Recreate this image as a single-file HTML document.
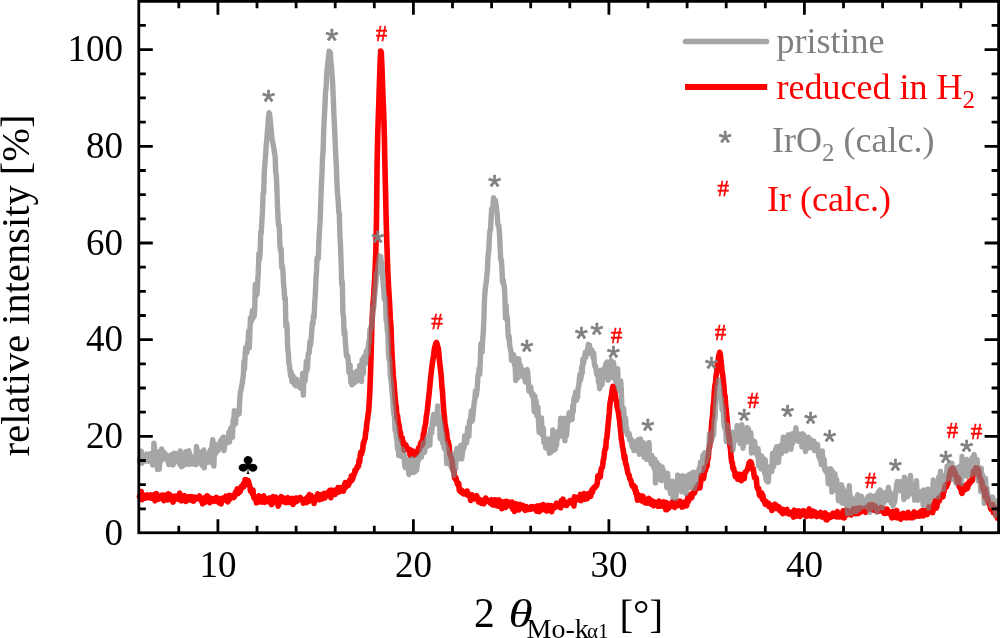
<!DOCTYPE html>
<html><head><meta charset="utf-8"><title>XRD pattern</title>
<style>
html,body{margin:0;padding:0;background:#fff;}
body{width:1000px;height:638px;overflow:hidden;}
svg{display:block;font-family:"Liberation Serif","Times New Roman",serif;}
</style></head><body>
<svg width="1000" height="638" viewBox="0 0 1000 638">
<rect width="1000" height="638" fill="#fff"/>
<g fill="none" stroke-linejoin="round" stroke-linecap="round">
<path d="M139.5,496.5 140.1,495.2 140.7,495.4 141.3,491.6 141.9,499.7 142.5,498.4 143.1,495.7 143.7,497.8 144.3,496.9 144.9,495.3 145.5,498.2 146.1,495.8 146.7,495.8 147.3,495.0 147.9,497.4 148.5,496.3 149.1,497.6 149.7,495.4 150.3,496.8 150.9,494.9 151.5,498.2 152.1,497.0 152.7,497.3 153.3,497.5 153.9,494.8 154.5,498.3 155.1,500.7 155.7,493.7 156.3,493.6 156.9,494.0 157.5,498.5 158.1,497.2 158.7,499.0 159.3,498.3 159.9,497.4 160.5,497.6 161.1,496.7 161.7,498.7 162.3,495.0 162.9,496.3 163.5,497.6 164.1,500.6 164.7,495.7 165.3,495.2 165.9,496.2 166.5,499.1 167.1,496.8 167.7,499.8 168.3,493.8 168.9,499.5 169.5,499.4 170.1,494.7 170.7,497.7 171.3,499.8 171.9,497.7 172.5,499.4 173.1,502.1 173.7,498.1 174.3,497.1 174.9,496.2 175.5,498.9 176.1,497.3 176.7,497.4 177.3,497.5 177.9,499.0 178.5,495.8 179.1,494.9 179.7,493.2 180.3,500.1 180.9,498.0 181.5,500.8 182.1,497.9 182.7,496.6 183.3,498.9 183.9,497.9 184.5,495.7 185.1,496.4 185.7,501.5 186.3,498.9 186.9,499.0 187.5,497.7 188.1,497.0 188.7,500.0 189.3,498.2 189.9,497.0 190.5,498.2 191.1,496.7 191.7,498.9 192.3,500.7 192.9,497.0 193.5,501.3 194.1,497.4 194.7,499.0 195.3,497.1 195.9,498.3 196.5,498.9 197.1,498.0 197.7,497.5 198.3,497.6 198.9,497.4 199.5,496.0 200.1,498.5 200.7,499.8 201.3,500.8 201.9,500.3 202.5,503.8 203.1,499.8 203.7,498.4 204.3,502.8 204.9,497.3 205.5,501.2 206.1,497.6 206.7,500.1 207.3,495.7 207.9,501.2 208.5,499.2 209.1,497.7 209.7,502.8 210.3,501.1 210.9,499.8 211.5,498.3 212.1,499.7 212.7,499.5 213.3,501.2 213.9,501.4 214.5,498.6 215.1,498.9 215.7,498.9 216.3,497.4 216.9,498.8 217.5,499.8 218.1,501.3 218.7,502.5 219.3,498.5 219.9,501.0 220.5,499.1 221.1,503.9 221.7,499.8 222.3,500.8 222.9,498.0 223.5,498.1 224.1,499.9 224.7,498.7 225.3,500.0 225.9,496.2 226.5,500.2 227.1,497.1 227.7,501.9 228.3,497.8 228.9,500.3 229.5,495.3 230.1,498.6 230.7,495.8 231.3,496.4 231.9,497.1 232.5,496.2 233.1,496.9 233.7,497.5 234.3,496.8 234.9,494.9 235.5,492.0 236.1,492.5 236.7,493.0 237.3,488.7 237.9,493.6 238.5,491.1 239.1,490.4 239.7,492.1 240.3,491.0 240.9,489.4 241.5,486.3 242.1,487.9 242.7,487.1 243.3,483.9 243.9,486.7 244.5,484.9 245.1,479.5 245.7,482.9 246.3,479.8 246.9,484.2 247.5,483.6 248.1,480.6 248.7,482.0 249.3,485.3 249.9,486.2 250.5,491.2 251.1,491.4 251.7,490.9 252.3,493.7 252.9,490.0 253.5,495.9 254.1,498.2 254.7,497.4 255.3,497.2 255.9,500.0 256.5,502.8 257.1,499.6 257.7,497.1 258.3,502.1 258.9,495.8 259.5,500.4 260.1,498.4 260.7,501.3 261.3,498.0 261.9,502.2 262.5,500.3 263.1,496.4 263.7,496.0 264.3,499.2 264.9,502.3 265.5,500.1 266.1,500.0 266.7,499.4 267.3,501.3 267.9,500.7 268.5,500.5 269.1,498.1 269.7,502.3 270.3,502.7 270.9,497.7 271.5,504.6 272.1,501.6 272.7,499.3 273.3,496.7 273.9,501.6 274.5,501.5 275.1,499.3 275.7,497.1 276.3,502.7 276.9,499.4 277.5,499.7 278.1,506.1 278.7,504.7 279.3,502.5 279.9,499.9 280.5,502.0 281.1,496.5 281.7,501.1 282.3,499.4 282.9,498.5 283.5,497.9 284.1,501.9 284.7,501.1 285.3,501.3 285.9,502.6 286.5,499.4 287.1,498.7 287.7,497.6 288.3,500.4 288.9,502.4 289.5,500.7 290.1,502.2 290.7,498.7 291.3,500.1 291.9,499.5 292.5,498.5 293.1,504.4 293.7,502.5 294.3,499.4 294.9,499.4 295.5,500.7 296.1,498.0 296.7,501.6 297.3,498.2 297.9,500.0 298.5,498.7 299.1,499.7 299.7,498.0 300.3,497.5 300.9,498.6 301.5,499.1 302.1,499.8 302.7,500.4 303.3,503.2 303.9,501.8 304.5,499.7 305.1,501.5 305.7,498.8 306.3,502.8 306.9,501.0 307.5,497.3 308.1,501.2 308.7,501.3 309.3,494.5 309.9,498.1 310.5,498.5 311.1,495.6 311.7,497.1 312.3,497.2 312.9,499.8 313.5,499.2 314.1,503.5 314.7,497.6 315.3,500.3 315.9,498.1 316.5,498.3 317.1,495.4 317.7,493.8 318.3,495.8 318.9,498.5 319.5,499.8 320.1,497.8 320.7,497.4 321.3,494.7 321.9,499.0 322.5,498.4 323.1,494.7 323.7,495.4 324.3,493.4 324.9,497.9 325.5,495.7 326.1,494.6 326.7,495.4 327.3,495.3 327.9,493.5 328.5,491.7 329.1,491.5 329.7,490.5 330.3,494.5 330.9,497.7 331.5,490.1 332.1,493.4 332.7,493.7 333.3,490.9 333.9,493.0 334.5,490.3 335.1,494.5 335.7,490.8 336.3,492.0 336.9,492.8 337.5,490.5 338.1,487.6 338.7,489.8 339.3,491.9 339.9,490.0 340.5,490.3 341.1,487.5 341.7,489.4 342.3,490.0 342.9,488.2 343.5,491.2 344.1,486.7 344.7,484.5 345.3,482.7 345.9,487.3 346.5,484.4 347.1,485.7 347.7,484.0 348.3,485.5 348.9,484.1 349.5,480.2 350.1,480.7 350.7,481.4 351.3,476.1 351.9,480.3 352.5,479.0 353.1,477.6 353.7,474.3 354.3,474.2 354.9,470.4 355.5,471.4 356.1,468.9 356.7,468.8 357.3,466.3 357.9,466.2 358.5,466.2 359.1,459.8 359.7,462.1 360.3,454.6 360.9,452.2 361.5,453.9 362.1,451.7 362.7,449.8 363.3,442.9 363.9,442.8 364.5,439.9 365.1,438.7 365.7,432.4 366.3,429.7 366.9,422.6 367.5,419.5 368.1,414.1 368.7,410.9 369.3,400.9 369.9,390.3 370.5,374.2 371.1,354.3 371.7,331.2 372.3,316.4 372.9,304.7 373.5,297.9 374.1,287.8 374.7,278.4 375.3,265.3 375.9,249.2 376.5,218.6 377.1,164.1 377.7,135.4 378.3,116.8 378.9,100.7 379.5,80.5 380.1,63.0 380.7,51.0 381.3,52.5 381.9,65.7 382.5,83.2 383.1,100.1 383.7,112.8 384.3,133.3 384.9,165.3 385.5,189.2 386.1,217.5 386.7,239.1 387.3,256.3 387.9,273.2 388.5,285.7 389.1,295.4 389.7,305.7 390.3,318.7 390.9,325.5 391.5,342.1 392.1,355.5 392.7,365.8 393.3,375.4 393.9,381.5 394.5,389.7 395.1,397.7 395.7,404.0 396.3,406.5 396.9,418.4 397.5,415.6 398.1,420.8 398.7,423.8 399.3,426.8 399.9,433.1 400.5,432.5 401.1,438.4 401.7,440.2 402.3,437.9 402.9,443.7 403.5,442.1 404.1,450.1 404.7,445.6 405.3,445.7 405.9,445.0 406.5,447.0 407.1,449.0 407.7,448.8 408.3,448.8 408.9,450.4 409.5,451.8 410.1,455.3 410.7,449.7 411.3,452.3 411.9,451.8 412.5,450.9 413.1,451.5 413.7,452.3 414.3,455.3 414.9,453.4 415.5,452.4 416.1,454.0 416.7,452.7 417.3,451.0 417.9,451.3 418.5,448.1 419.1,449.8 419.7,448.4 420.3,445.6 420.9,442.5 421.5,445.8 422.1,440.8 422.7,443.9 423.3,434.0 423.9,433.7 424.5,428.0 425.1,425.9 425.7,423.4 426.3,416.5 426.9,413.2 427.5,408.4 428.1,402.4 428.7,397.2 429.3,391.8 429.9,385.6 430.5,379.3 431.1,373.7 431.7,368.2 432.3,364.1 432.9,359.8 433.5,356.7 434.1,351.4 434.7,347.1 435.3,346.0 435.9,343.0 436.5,342.4 437.1,343.8 437.7,346.9 438.3,348.2 438.9,354.1 439.5,360.9 440.1,366.1 440.7,371.1 441.3,377.1 441.9,386.8 442.5,391.7 443.1,401.9 443.7,410.1 444.3,415.4 444.9,423.3 445.5,426.4 446.1,430.2 446.7,432.9 447.3,440.0 447.9,440.7 448.5,443.4 449.1,445.2 449.7,453.9 450.3,455.0 450.9,456.7 451.5,459.1 452.1,460.9 452.7,467.7 453.3,470.8 453.9,470.3 454.5,477.5 455.1,478.8 455.7,477.3 456.3,479.7 456.9,481.6 457.5,484.2 458.1,484.9 458.7,483.3 459.3,490.2 459.9,489.0 460.5,491.6 461.1,492.3 461.7,490.2 462.3,491.9 462.9,493.2 463.5,493.8 464.1,492.5 464.7,492.1 465.3,493.8 465.9,492.6 466.5,493.5 467.1,491.0 467.7,495.4 468.3,493.7 468.9,494.9 469.5,496.2 470.1,497.2 470.7,500.5 471.3,497.6 471.9,494.8 472.5,498.0 473.1,496.9 473.7,499.0 474.3,497.1 474.9,497.3 475.5,497.9 476.1,497.8 476.7,495.7 477.3,498.1 477.9,499.5 478.5,501.9 479.1,499.3 479.7,499.3 480.3,501.2 480.9,501.3 481.5,503.4 482.1,501.6 482.7,500.6 483.3,503.3 483.9,503.7 484.5,500.0 485.1,501.3 485.7,498.0 486.3,500.6 486.9,499.7 487.5,501.1 488.1,500.6 488.7,501.3 489.3,501.6 489.9,502.8 490.5,502.4 491.1,501.0 491.7,499.7 492.3,504.6 492.9,505.0 493.5,501.5 494.1,503.6 494.7,499.7 495.3,499.7 495.9,502.3 496.5,505.7 497.1,501.0 497.7,501.5 498.3,506.3 498.9,499.7 499.5,504.7 500.1,504.5 500.7,503.3 501.3,504.1 501.9,508.8 502.5,501.8 503.1,503.5 503.7,503.7 504.3,502.9 504.9,501.8 505.5,507.5 506.1,505.0 506.7,501.3 507.3,503.4 507.9,505.6 508.5,505.7 509.1,502.3 509.7,505.0 510.3,505.7 510.9,506.1 511.5,506.2 512.1,502.1 512.7,509.1 513.3,506.1 513.9,509.3 514.5,511.4 515.1,505.8 515.7,503.8 516.3,507.9 516.9,506.1 517.5,505.7 518.1,504.7 518.7,510.0 519.3,506.1 519.9,504.4 520.5,506.3 521.1,505.0 521.7,507.6 522.3,506.6 522.9,505.5 523.5,508.8 524.1,506.5 524.7,509.2 525.3,510.2 525.9,507.2 526.5,506.7 527.1,508.3 527.7,509.7 528.3,508.0 528.9,508.3 529.5,507.9 530.1,508.6 530.7,509.2 531.3,506.7 531.9,507.1 532.5,508.1 533.1,506.7 533.7,508.3 534.3,509.0 534.9,508.0 535.5,506.9 536.1,506.5 536.7,511.3 537.3,509.7 537.9,505.9 538.5,506.4 539.1,511.6 539.7,510.9 540.3,508.2 540.9,510.2 541.5,505.2 542.1,508.0 542.7,509.4 543.3,504.5 543.9,506.5 544.5,509.5 545.1,510.1 545.7,506.9 546.3,508.5 546.9,511.0 547.5,507.1 548.1,505.3 548.7,507.6 549.3,506.9 549.9,510.0 550.5,507.7 551.1,505.7 551.7,511.7 552.3,506.0 552.9,507.8 553.5,508.0 554.1,508.0 554.7,506.7 555.3,507.3 555.9,505.9 556.5,503.2 557.1,505.3 557.7,505.2 558.3,505.1 558.9,505.5 559.5,503.9 560.1,507.5 560.7,507.8 561.3,500.5 561.9,504.5 562.5,503.0 563.1,499.2 563.7,504.8 564.3,502.7 564.9,503.0 565.5,502.3 566.1,505.4 566.7,505.5 567.3,503.5 567.9,504.1 568.5,502.4 569.1,502.7 569.7,500.8 570.3,502.1 570.9,500.5 571.5,502.4 572.1,503.0 572.7,501.8 573.3,503.3 573.9,506.0 574.5,496.7 575.1,500.5 575.7,499.2 576.3,499.2 576.9,497.3 577.5,499.8 578.1,499.1 578.7,498.2 579.3,498.8 579.9,497.9 580.5,494.4 581.1,500.8 581.7,497.9 582.3,496.5 582.9,498.7 583.5,496.6 584.1,493.5 584.7,499.1 585.3,494.0 585.9,496.4 586.5,496.8 587.1,498.8 587.7,498.1 588.3,495.7 588.9,493.4 589.5,493.4 590.1,495.6 590.7,496.1 591.3,493.0 591.9,489.9 592.5,492.3 593.1,488.7 593.7,487.8 594.3,487.1 594.9,487.7 595.5,486.0 596.1,486.2 596.7,485.5 597.3,482.7 597.9,475.8 598.5,475.4 599.1,477.2 599.7,474.9 600.3,477.1 600.9,470.7 601.5,468.2 602.1,467.8 602.7,465.3 603.3,460.0 603.9,458.3 604.5,452.0 605.1,448.8 605.7,448.9 606.3,439.4 606.9,437.7 607.5,431.0 608.1,424.7 608.7,418.7 609.3,412.5 609.9,404.1 610.5,400.8 611.1,397.0 611.7,394.6 612.3,388.9 612.9,386.4 613.5,386.6 614.1,390.2 614.7,391.2 615.3,394.4 615.9,399.9 616.5,400.7 617.1,407.2 617.7,409.7 618.3,411.5 618.9,416.7 619.5,419.7 620.1,426.1 620.7,431.6 621.3,439.1 621.9,441.8 622.5,446.8 623.1,449.5 623.7,453.9 624.3,458.9 624.9,456.1 625.5,463.6 626.1,463.7 626.7,467.2 627.3,470.0 627.9,473.3 628.5,474.3 629.1,475.1 629.7,478.4 630.3,479.5 630.9,480.6 631.5,482.9 632.1,485.6 632.7,485.7 633.3,487.1 633.9,485.7 634.5,489.2 635.1,487.1 635.7,493.1 636.3,491.0 636.9,496.2 637.5,500.3 638.1,494.5 638.7,498.4 639.3,497.2 639.9,495.9 640.5,495.8 641.1,498.9 641.7,500.9 642.3,499.3 642.9,496.2 643.5,497.4 644.1,499.3 644.7,502.6 645.3,500.9 645.9,501.2 646.5,503.2 647.1,500.7 647.7,501.2 648.3,501.2 648.9,498.4 649.5,502.8 650.1,502.9 650.7,504.1 651.3,500.2 651.9,501.1 652.5,504.6 653.1,503.6 653.7,505.8 654.3,501.7 654.9,503.9 655.5,502.3 656.1,504.4 656.7,503.0 657.3,505.1 657.9,506.2 658.5,505.6 659.1,501.0 659.7,506.3 660.3,505.5 660.9,502.7 661.5,503.1 662.1,504.9 662.7,506.0 663.3,504.1 663.9,501.9 664.5,505.5 665.1,505.3 665.7,509.6 666.3,502.6 666.9,509.8 667.5,508.3 668.1,505.6 668.7,508.2 669.3,505.2 669.9,506.9 670.5,503.6 671.1,505.2 671.7,503.1 672.3,502.0 672.9,504.5 673.5,503.7 674.1,506.1 674.7,507.4 675.3,504.7 675.9,505.1 676.5,505.4 677.1,501.8 677.7,505.5 678.3,505.0 678.9,504.9 679.5,502.9 680.1,501.2 680.7,504.5 681.3,505.4 681.9,507.1 682.5,506.4 683.1,506.7 683.7,504.2 684.3,505.2 684.9,502.1 685.5,503.1 686.1,503.1 686.7,505.8 687.3,500.5 687.9,497.0 688.5,501.4 689.1,496.6 689.7,497.3 690.3,496.2 690.9,494.4 691.5,498.0 692.1,495.9 692.7,493.0 693.3,493.6 693.9,491.9 694.5,493.1 695.1,490.4 695.7,488.8 696.3,488.2 696.9,487.7 697.5,488.1 698.1,484.8 698.7,485.4 699.3,485.3 699.9,487.8 700.5,483.9 701.1,475.4 701.7,478.8 702.3,477.7 702.9,477.7 703.5,478.6 704.1,475.4 704.7,467.8 705.3,470.9 705.9,468.4 706.5,466.8 707.1,465.9 707.7,458.0 708.3,458.4 708.9,448.9 709.5,447.5 710.1,443.1 710.7,441.4 711.3,429.5 711.9,420.4 712.5,416.7 713.1,406.3 713.7,402.4 714.3,391.9 714.9,385.7 715.5,383.1 716.1,376.0 716.7,372.1 717.3,364.9 717.9,363.6 718.5,357.1 719.1,354.8 719.7,352.3 720.3,354.3 720.9,359.9 721.5,365.1 722.1,371.1 722.7,374.9 723.3,380.7 723.9,386.2 724.5,395.4 725.1,395.8 725.7,405.6 726.3,410.2 726.9,417.9 727.5,423.3 728.1,432.8 728.7,434.1 729.3,439.0 729.9,446.0 730.5,449.0 731.1,457.1 731.7,461.8 732.3,462.4 732.9,468.4 733.5,467.9 734.1,470.6 734.7,472.0 735.3,476.7 735.9,474.3 736.5,473.6 737.1,474.5 737.7,479.3 738.3,474.6 738.9,477.4 739.5,477.9 740.1,474.3 740.7,478.1 741.3,480.7 741.9,478.8 742.5,476.0 743.1,478.2 743.7,476.9 744.3,478.7 744.9,472.4 745.5,472.0 746.1,471.9 746.7,470.6 747.3,469.8 747.9,468.2 748.5,465.8 749.1,462.9 749.7,463.9 750.3,461.7 750.9,462.0 751.5,463.4 752.1,466.8 752.7,469.7 753.3,468.7 753.9,474.0 754.5,477.6 755.1,478.2 755.7,477.3 756.3,478.4 756.9,486.2 757.5,488.5 758.1,489.3 758.7,488.5 759.3,494.8 759.9,495.7 760.5,494.4 761.1,495.1 761.7,492.9 762.3,498.9 762.9,495.3 763.5,500.5 764.1,501.3 764.7,500.8 765.3,504.3 765.9,501.2 766.5,503.5 767.1,504.4 767.7,503.9 768.3,503.1 768.9,506.6 769.5,505.5 770.1,504.7 770.7,505.2 771.3,506.1 771.9,510.5 772.5,506.7 773.1,506.3 773.7,505.1 774.3,505.1 774.9,504.1 775.5,508.4 776.1,508.3 776.7,506.6 777.3,506.0 777.9,508.5 778.5,508.4 779.1,507.1 779.7,510.5 780.3,510.4 780.9,510.3 781.5,512.1 782.1,509.6 782.7,513.7 783.3,509.4 783.9,512.5 784.5,512.9 785.1,511.4 785.7,512.8 786.3,509.8 786.9,509.5 787.5,512.1 788.1,511.3 788.7,513.9 789.3,512.9 789.9,514.1 790.5,513.6 791.1,513.4 791.7,513.3 792.3,512.5 792.9,512.3 793.5,517.1 794.1,510.0 794.7,513.0 795.3,515.3 795.9,514.2 796.5,516.1 797.1,514.5 797.7,511.1 798.3,512.9 798.9,510.9 799.5,515.5 800.1,516.4 800.7,512.8 801.3,514.7 801.9,513.0 802.5,511.0 803.1,513.0 803.7,510.8 804.3,512.8 804.9,514.3 805.5,515.3 806.1,516.5 806.7,513.4 807.3,514.5 807.9,515.0 808.5,515.3 809.1,508.8 809.7,512.8 810.3,515.9 810.9,512.3 811.5,515.0 812.1,516.1 812.7,511.0 813.3,514.3 813.9,515.2 814.5,514.8 815.1,512.0 815.7,515.6 816.3,513.9 816.9,516.6 817.5,515.9 818.1,514.1 818.7,515.6 819.3,514.0 819.9,514.0 820.5,512.4 821.1,515.0 821.7,517.0 822.3,515.7 822.9,515.5 823.5,514.4 824.1,514.6 824.7,517.1 825.3,512.9 825.9,519.6 826.5,515.6 827.1,519.9 827.7,518.0 828.3,515.0 828.9,517.2 829.5,516.3 830.1,516.7 830.7,517.3 831.3,514.8 831.9,514.6 832.5,515.0 833.1,513.1 833.7,515.2 834.3,516.1 834.9,516.1 835.5,516.0 836.1,514.8 836.7,517.0 837.3,511.6 837.9,514.7 838.5,514.7 839.1,517.0 839.7,516.5 840.3,516.7 840.9,515.1 841.5,516.8 842.1,513.0 842.7,515.0 843.3,510.7 843.9,517.9 844.5,517.6 845.1,513.4 845.7,512.8 846.3,510.3 846.9,511.3 847.5,514.4 848.1,513.7 848.7,511.1 849.3,512.9 849.9,512.5 850.5,514.6 851.1,514.9 851.7,513.0 852.3,513.5 852.9,513.1 853.5,508.9 854.1,513.1 854.7,512.4 855.3,513.7 855.9,508.6 856.5,513.3 857.1,510.4 857.7,511.9 858.3,513.4 858.9,508.1 859.5,508.2 860.1,512.3 860.7,508.0 861.3,508.2 861.9,510.9 862.5,509.2 863.1,510.8 863.7,509.6 864.3,508.7 864.9,510.3 865.5,512.3 866.1,507.7 866.7,510.4 867.3,509.5 867.9,507.4 868.5,507.9 869.1,505.1 869.7,505.6 870.3,507.3 870.9,506.7 871.5,509.4 872.1,504.6 872.7,506.7 873.3,506.3 873.9,507.5 874.5,510.3 875.1,506.1 875.7,510.3 876.3,507.9 876.9,508.7 877.5,511.5 878.1,509.2 878.7,511.2 879.3,510.4 879.9,510.0 880.5,509.8 881.1,507.4 881.7,509.4 882.3,511.3 882.9,511.6 883.5,508.5 884.1,513.4 884.7,512.8 885.3,509.4 885.9,510.0 886.5,513.2 887.1,509.1 887.7,511.2 888.3,512.7 888.9,512.8 889.5,513.1 890.1,514.2 890.7,512.2 891.3,513.0 891.9,518.0 892.5,511.6 893.1,513.6 893.7,514.9 894.3,513.6 894.9,517.4 895.5,515.3 896.1,516.8 896.7,510.5 897.3,517.8 897.9,517.8 898.5,514.3 899.1,518.3 899.7,516.3 900.3,517.6 900.9,519.2 901.5,516.0 902.1,513.9 902.7,515.7 903.3,513.3 903.9,514.2 904.5,514.2 905.1,514.3 905.7,517.8 906.3,517.2 906.9,513.8 907.5,517.7 908.1,512.3 908.7,514.2 909.3,515.1 909.9,517.6 910.5,516.7 911.1,516.1 911.7,517.7 912.3,516.5 912.9,517.7 913.5,513.5 914.1,511.8 914.7,514.1 915.3,516.4 915.9,515.2 916.5,516.3 917.1,515.9 917.7,515.4 918.3,515.9 918.9,512.9 919.5,516.2 920.1,512.1 920.7,513.7 921.3,511.1 921.9,514.6 922.5,510.5 923.1,516.0 923.7,510.6 924.3,513.5 924.9,512.5 925.5,510.9 926.1,514.7 926.7,511.2 927.3,514.5 927.9,509.4 928.5,509.5 929.1,506.9 929.7,511.3 930.3,511.6 930.9,509.9 931.5,508.7 932.1,506.8 932.7,512.6 933.3,509.0 933.9,503.6 934.5,505.9 935.1,500.9 935.7,508.1 936.3,508.1 936.9,506.3 937.5,502.6 938.1,500.7 938.7,498.2 939.3,501.0 939.9,497.5 940.5,497.2 941.1,495.7 941.7,495.3 942.3,496.5 942.9,496.8 943.5,492.7 944.1,491.1 944.7,487.6 945.3,485.9 945.9,484.8 946.5,487.0 947.1,484.3 947.7,484.1 948.3,481.5 948.9,478.3 949.5,474.6 950.1,474.0 950.7,469.7 951.3,474.4 951.9,469.8 952.5,468.2 953.1,473.1 953.7,469.4 954.3,472.4 954.9,472.5 955.5,475.1 956.1,475.5 956.7,478.8 957.3,482.2 957.9,478.5 958.5,478.1 959.1,486.5 959.7,485.8 960.3,488.7 960.9,487.8 961.5,492.3 962.1,493.4 962.7,487.6 963.3,491.0 963.9,488.3 964.5,486.0 965.1,488.1 965.7,489.2 966.3,484.9 966.9,484.4 967.5,488.5 968.1,485.4 968.7,485.3 969.3,481.6 969.9,481.8 970.5,482.3 971.1,481.2 971.7,479.6 972.3,480.6 972.9,476.1 973.5,471.1 974.1,470.7 974.7,470.9 975.3,472.3 975.9,467.8 976.5,468.1 977.1,469.1 977.7,468.6 978.3,469.7 978.9,472.5 979.5,476.9 980.1,478.1 980.7,478.9 981.3,482.5 981.9,481.5 982.5,487.9 983.1,489.2 983.7,490.0 984.3,488.0 984.9,496.8 985.5,489.1 986.1,494.5 986.7,496.4 987.3,501.1 987.9,498.4 988.5,503.0 989.1,503.5 989.7,504.2 990.3,507.3 990.9,509.2 991.5,508.1 992.1,507.7 992.7,504.6 993.3,512.6 993.9,510.0 994.5,507.7 995.1,512.2 995.7,515.3 996.3,512.8 996.9,511.3 997.5,518.3" stroke="#ff0000" stroke-width="5.6"/>
<path d="M139.5,460.5 140.1,463.1 140.7,460.3 141.3,451.3 141.9,463.4 142.5,460.8 143.1,455.3 143.7,461.4 144.3,460.2 144.9,459.8 145.5,458.3 146.1,461.1 146.7,454.0 147.3,457.2 147.9,455.4 148.5,461.3 149.1,458.2 149.7,456.4 150.3,453.7 150.9,456.6 151.5,458.0 152.1,456.5 152.7,465.1 153.3,463.5 153.9,443.1 154.5,447.6 155.1,457.0 155.7,455.7 156.3,459.2 156.9,459.2 157.5,469.6 158.1,451.9 158.7,455.9 159.3,469.2 159.9,461.6 160.5,461.7 161.1,455.2 161.7,449.0 162.3,459.1 162.9,458.9 163.5,451.7 164.1,454.8 164.7,458.3 165.3,453.6 165.9,458.4 166.5,459.6 167.1,459.5 167.7,456.6 168.3,462.8 168.9,464.6 169.5,461.5 170.1,455.4 170.7,464.0 171.3,457.2 171.9,464.8 172.5,454.1 173.1,465.0 173.7,459.9 174.3,453.1 174.9,458.3 175.5,460.3 176.1,461.5 176.7,454.6 177.3,453.9 177.9,461.1 178.5,457.4 179.1,461.3 179.7,464.2 180.3,450.9 180.9,461.4 181.5,466.7 182.1,458.4 182.7,455.5 183.3,464.1 183.9,461.4 184.5,464.9 185.1,458.0 185.7,451.8 186.3,459.3 186.9,457.4 187.5,464.0 188.1,460.8 188.7,450.7 189.3,453.0 189.9,464.4 190.5,463.2 191.1,455.9 191.7,459.3 192.3,461.7 192.9,461.8 193.5,464.0 194.1,460.5 194.7,458.5 195.3,457.6 195.9,464.7 196.5,446.5 197.1,458.1 197.7,459.0 198.3,450.9 198.9,460.6 199.5,455.1 200.1,463.4 200.7,457.9 201.3,462.2 201.9,465.2 202.5,460.6 203.1,453.6 203.7,450.0 204.3,467.9 204.9,457.6 205.5,454.3 206.1,458.8 206.7,456.8 207.3,462.3 207.9,457.4 208.5,456.9 209.1,452.5 209.7,458.5 210.3,449.7 210.9,458.5 211.5,462.7 212.1,445.4 212.7,439.6 213.3,456.0 213.9,466.1 214.5,446.0 215.1,444.1 215.7,453.6 216.3,445.1 216.9,446.4 217.5,446.6 218.1,450.8 218.7,445.0 219.3,448.2 219.9,445.1 220.5,440.9 221.1,443.3 221.7,439.3 222.3,444.1 222.9,437.4 223.5,437.1 224.1,450.6 224.7,441.8 225.3,441.3 225.9,443.9 226.5,438.3 227.1,438.8 227.7,442.0 228.3,440.6 228.9,432.0 229.5,442.1 230.1,433.0 230.7,428.7 231.3,427.7 231.9,428.4 232.5,437.4 233.1,419.8 233.7,425.3 234.3,410.8 234.9,420.8 235.5,423.9 236.1,415.7 236.7,411.5 237.3,414.0 237.9,413.9 238.5,410.5 239.1,414.0 239.7,400.4 240.3,392.0 240.9,390.8 241.5,387.2 242.1,384.3 242.7,379.4 243.3,376.2 243.9,361.2 244.5,369.4 245.1,356.0 245.7,347.4 246.3,352.8 246.9,352.8 247.5,345.0 248.1,340.0 248.7,330.7 249.3,347.8 249.9,332.4 250.5,317.7 251.1,317.6 251.7,320.9 252.3,310.4 252.9,318.1 253.5,311.9 254.1,316.6 254.7,309.7 255.3,284.5 255.9,296.0 256.5,283.9 257.1,294.2 257.7,281.0 258.3,272.7 258.9,253.4 259.5,259.5 260.1,253.6 260.7,232.3 261.3,233.2 261.9,220.4 262.5,211.7 263.1,193.2 263.7,193.1 264.3,171.7 264.9,163.7 265.5,157.1 266.1,146.7 266.7,140.6 267.3,132.7 267.9,125.5 268.5,117.1 269.1,112.6 269.7,115.1 270.3,120.5 270.9,127.0 271.5,132.6 272.1,139.9 272.7,141.6 273.3,145.9 273.9,148.2 274.5,153.2 275.1,156.2 275.7,172.0 276.3,175.5 276.9,188.4 277.5,206.5 278.1,219.8 278.7,225.9 279.3,225.3 279.9,245.1 280.5,250.8 281.1,248.5 281.7,267.2 282.3,265.8 282.9,270.0 283.5,283.5 284.1,289.0 284.7,299.0 285.3,297.8 285.9,326.1 286.5,322.7 287.1,327.3 287.7,348.6 288.3,351.9 288.9,363.3 289.5,365.8 290.1,371.8 290.7,376.0 291.3,372.4 291.9,381.6 292.5,376.9 293.1,376.1 293.7,381.8 294.3,384.3 294.9,381.9 295.5,380.2 296.1,386.1 296.7,379.3 297.3,382.4 297.9,385.4 298.5,383.0 299.1,385.9 299.7,385.9 300.3,388.0 300.9,383.2 301.5,383.0 302.1,385.2 302.7,373.1 303.3,395.1 303.9,376.7 304.5,374.8 305.1,381.1 305.7,374.1 306.3,361.4 306.9,370.5 307.5,367.5 308.1,355.9 308.7,352.5 309.3,352.7 309.9,341.3 310.5,345.1 311.1,340.1 311.7,331.3 312.3,323.0 312.9,324.5 313.5,315.2 314.1,317.7 314.7,302.9 315.3,295.1 315.9,280.4 316.5,271.4 317.1,257.9 317.7,259.1 318.3,258.6 318.9,240.1 319.5,230.1 320.1,221.2 320.7,204.5 321.3,187.0 321.9,175.6 322.5,158.2 323.1,150.6 323.7,130.0 324.3,117.8 324.9,107.4 325.5,92.4 326.1,88.1 326.7,74.3 327.3,67.2 327.9,62.5 328.5,57.3 329.1,51.2 329.7,52.0 330.3,52.5 330.9,62.4 331.5,66.9 332.1,74.3 332.7,84.9 333.3,98.5 333.9,114.2 334.5,126.7 335.1,139.8 335.7,154.4 336.3,164.6 336.9,182.2 337.5,194.4 338.1,199.4 338.7,211.9 339.3,213.4 339.9,235.4 340.5,245.3 341.1,262.5 341.7,284.1 342.3,281.8 342.9,313.3 343.5,316.8 344.1,333.9 344.7,330.1 345.3,340.4 345.9,349.2 346.5,355.9 347.1,356.9 347.7,355.9 348.3,360.8 348.9,372.4 349.5,371.1 350.1,365.2 350.7,381.9 351.3,381.4 351.9,384.8 352.5,378.1 353.1,384.1 353.7,373.2 354.3,381.6 354.9,375.0 355.5,380.6 356.1,381.6 356.7,371.3 357.3,374.4 357.9,374.3 358.5,380.0 359.1,376.7 359.7,365.5 360.3,374.0 360.9,374.8 361.5,381.6 362.1,359.7 362.7,364.9 363.3,373.7 363.9,357.2 364.5,356.0 365.1,363.1 365.7,363.3 366.3,351.1 366.9,354.7 367.5,349.2 368.1,353.6 368.7,341.7 369.3,343.6 369.9,329.7 370.5,329.8 371.1,325.9 371.7,327.6 372.3,319.4 372.9,307.2 373.5,309.0 374.1,304.0 374.7,294.6 375.3,288.6 375.9,283.3 376.5,272.6 377.1,274.1 377.7,270.0 378.3,263.3 378.9,263.3 379.5,256.0 380.1,256.1 380.7,256.7 381.3,264.9 381.9,262.4 382.5,274.1 383.1,282.9 383.7,289.0 384.3,299.2 384.9,297.6 385.5,299.1 386.1,319.9 386.7,318.5 387.3,330.6 387.9,334.1 388.5,353.5 389.1,360.1 389.7,359.1 390.3,375.5 390.9,378.8 391.5,384.6 392.1,392.7 392.7,398.0 393.3,409.2 393.9,414.2 394.5,417.2 395.1,430.6 395.7,427.0 396.3,436.0 396.9,439.9 397.5,448.7 398.1,440.5 398.7,455.3 399.3,448.9 399.9,448.9 400.5,448.0 401.1,456.4 401.7,454.7 402.3,449.4 402.9,450.3 403.5,454.4 404.1,454.6 404.7,465.2 405.3,467.6 405.9,465.5 406.5,463.4 407.1,459.6 407.7,462.7 408.3,467.6 408.9,474.6 409.5,468.0 410.1,461.4 410.7,463.1 411.3,460.2 411.9,458.5 412.5,461.6 413.1,463.6 413.7,472.5 414.3,462.5 414.9,469.5 415.5,471.5 416.1,461.9 416.7,469.9 417.3,464.4 417.9,457.6 418.5,460.6 419.1,458.5 419.7,456.2 420.3,455.5 420.9,456.4 421.5,457.0 422.1,448.7 422.7,452.4 423.3,443.0 423.9,451.6 424.5,452.4 425.1,448.3 425.7,447.3 426.3,447.0 426.9,438.0 427.5,438.3 428.1,440.2 428.7,440.8 429.3,435.3 429.9,445.2 430.5,428.9 431.1,433.2 431.7,433.1 432.3,423.6 432.9,418.1 433.5,414.4 434.1,420.2 434.7,424.1 435.3,418.4 435.9,417.2 436.5,413.9 437.1,419.5 437.7,405.9 438.3,420.7 438.9,421.7 439.5,416.5 440.1,438.5 440.7,421.3 441.3,425.2 441.9,427.0 442.5,442.4 443.1,434.3 443.7,445.8 444.3,448.3 444.9,449.3 445.5,443.2 446.1,449.2 446.7,463.5 447.3,448.5 447.9,452.2 448.5,457.1 449.1,463.5 449.7,461.4 450.3,465.0 450.9,455.8 451.5,467.5 452.1,465.9 452.7,454.2 453.3,471.4 453.9,475.4 454.5,458.1 455.1,462.1 455.7,468.9 456.3,452.3 456.9,448.6 457.5,451.6 458.1,454.7 458.7,453.6 459.3,458.8 459.9,455.4 460.5,445.4 461.1,453.6 461.7,459.0 462.3,453.5 462.9,450.7 463.5,443.8 464.1,447.7 464.7,435.6 465.3,443.6 465.9,437.6 466.5,442.9 467.1,437.7 467.7,427.5 468.3,432.4 468.9,436.4 469.5,421.2 470.1,421.8 470.7,418.0 471.3,411.0 471.9,421.4 472.5,420.1 473.1,413.9 473.7,407.3 474.3,402.0 474.9,399.9 475.5,390.8 476.1,395.9 476.7,392.8 477.3,388.0 477.9,375.7 478.5,374.5 479.1,368.5 479.7,374.3 480.3,360.3 480.9,343.6 481.5,350.3 482.1,352.4 482.7,339.2 483.3,332.3 483.9,319.0 484.5,299.1 485.1,290.9 485.7,285.1 486.3,282.3 486.9,275.6 487.5,268.5 488.1,255.1 488.7,252.1 489.3,239.3 489.9,230.8 490.5,229.6 491.1,218.4 491.7,208.5 492.3,208.7 492.9,207.8 493.5,197.8 494.1,200.9 494.7,200.5 495.3,200.2 495.9,203.2 496.5,208.9 497.1,212.8 497.7,222.9 498.3,226.3 498.9,225.6 499.5,234.0 500.1,246.7 500.7,259.0 501.3,259.9 501.9,267.0 502.5,281.9 503.1,279.8 503.7,285.1 504.3,285.8 504.9,297.1 505.5,318.1 506.1,305.1 506.7,318.9 507.3,316.7 507.9,330.0 508.5,338.4 509.1,336.1 509.7,345.2 510.3,348.6 510.9,350.4 511.5,360.3 512.1,357.8 512.7,354.3 513.3,354.5 513.9,355.8 514.5,365.0 515.1,362.3 515.7,380.5 516.3,376.6 516.9,366.0 517.5,366.1 518.1,377.7 518.7,358.6 519.3,367.0 519.9,375.2 520.5,365.5 521.1,368.5 521.7,369.8 522.3,376.0 522.9,373.7 523.5,375.8 524.1,377.5 524.7,375.2 525.3,382.0 525.9,372.8 526.5,370.1 527.1,369.7 527.7,372.4 528.3,380.3 528.9,391.2 529.5,388.9 530.1,387.0 530.7,386.9 531.3,392.2 531.9,395.3 532.5,396.5 533.1,393.8 533.7,401.2 534.3,411.5 534.9,396.1 535.5,408.8 536.1,400.6 536.7,415.3 537.3,412.3 537.9,406.9 538.5,420.9 539.1,432.3 539.7,424.7 540.3,432.3 540.9,427.5 541.5,418.0 542.1,434.7 542.7,431.8 543.3,428.1 543.9,442.4 544.5,441.5 545.1,438.7 545.7,447.7 546.3,439.2 546.9,448.2 547.5,439.8 548.1,447.9 548.7,438.9 549.3,453.2 549.9,446.4 550.5,452.9 551.1,440.5 551.7,442.4 552.3,449.6 552.9,429.9 553.5,439.0 554.1,450.3 554.7,446.8 555.3,449.2 555.9,441.6 556.5,445.8 557.1,438.0 557.7,433.8 558.3,431.3 558.9,436.8 559.5,436.1 560.1,434.9 560.7,418.1 561.3,425.8 561.9,432.8 562.5,436.3 563.1,430.4 563.7,427.5 564.3,418.3 564.9,440.8 565.5,422.3 566.1,436.2 566.7,434.1 567.3,425.6 567.9,419.3 568.5,421.6 569.1,412.8 569.7,418.8 570.3,415.6 570.9,416.7 571.5,417.1 572.1,419.5 572.7,405.9 573.3,411.7 573.9,399.5 574.5,396.8 575.1,396.1 575.7,391.9 576.3,400.4 576.9,397.8 577.5,397.4 578.1,387.8 578.7,387.0 579.3,379.9 579.9,374.4 580.5,380.4 581.1,376.8 581.7,367.0 582.3,373.0 582.9,358.9 583.5,363.9 584.1,359.3 584.7,357.1 585.3,352.3 585.9,357.4 586.5,353.9 587.1,354.0 587.7,349.3 588.3,344.4 588.9,347.0 589.5,345.1 590.1,350.2 590.7,353.3 591.3,351.6 591.9,350.1 592.5,353.1 593.1,357.7 593.7,353.1 594.3,363.2 594.9,366.6 595.5,366.1 596.1,369.4 596.7,374.7 597.3,371.0 597.9,372.2 598.5,382.0 599.1,380.0 599.7,388.7 600.3,374.4 600.9,370.1 601.5,384.8 602.1,384.6 602.7,374.9 603.3,370.4 603.9,377.7 604.5,367.7 605.1,374.7 605.7,363.6 606.3,373.3 606.9,362.0 607.5,371.5 608.1,380.3 608.7,369.6 609.3,374.4 609.9,365.9 610.5,364.0 611.1,360.6 611.7,374.5 612.3,368.5 612.9,377.7 613.5,362.3 614.1,367.6 614.7,369.8 615.3,378.3 615.9,382.1 616.5,370.2 617.1,369.5 617.7,368.8 618.3,388.6 618.9,383.8 619.5,384.0 620.1,390.9 620.7,380.9 621.3,389.4 621.9,407.8 622.5,408.5 623.1,410.8 623.7,408.3 624.3,420.8 624.9,431.1 625.5,418.0 626.1,428.0 626.7,428.2 627.3,434.7 627.9,434.9 628.5,435.9 629.1,433.6 629.7,439.9 630.3,437.9 630.9,441.4 631.5,442.5 632.1,447.0 632.7,440.7 633.3,442.5 633.9,450.6 634.5,443.8 635.1,443.9 635.7,450.4 636.3,447.4 636.9,446.6 637.5,447.5 638.1,439.7 638.7,449.3 639.3,454.3 639.9,450.5 640.5,439.0 641.1,449.4 641.7,443.2 642.3,447.3 642.9,449.7 643.5,442.8 644.1,457.2 644.7,450.0 645.3,455.2 645.9,454.9 646.5,459.3 647.1,459.0 647.7,444.9 648.3,453.9 648.9,442.5 649.5,452.4 650.1,459.5 650.7,461.2 651.3,464.0 651.9,455.5 652.5,460.0 653.1,459.5 653.7,466.7 654.3,469.2 654.9,459.3 655.5,483.0 656.1,463.1 656.7,462.2 657.3,468.5 657.9,470.5 658.5,470.4 659.1,464.9 659.7,477.7 660.3,471.0 660.9,480.3 661.5,480.5 662.1,466.9 662.7,469.4 663.3,470.2 663.9,477.9 664.5,477.6 665.1,479.5 665.7,474.2 666.3,481.6 666.9,487.7 667.5,473.3 668.1,480.2 668.7,483.3 669.3,481.8 669.9,482.1 670.5,493.5 671.1,491.3 671.7,489.5 672.3,481.1 672.9,498.0 673.5,488.0 674.1,483.2 674.7,484.7 675.3,484.1 675.9,498.6 676.5,488.1 677.1,487.2 677.7,475.0 678.3,490.8 678.9,480.8 679.5,480.3 680.1,489.7 680.7,481.4 681.3,490.5 681.9,491.8 682.5,475.6 683.1,484.4 683.7,476.2 684.3,484.3 684.9,489.3 685.5,476.5 686.1,493.6 686.7,481.7 687.3,476.6 687.9,482.1 688.5,486.9 689.1,474.6 689.7,481.9 690.3,473.9 690.9,487.7 691.5,481.6 692.1,478.0 692.7,485.6 693.3,472.3 693.9,476.7 694.5,488.5 695.1,477.2 695.7,484.7 696.3,477.7 696.9,472.2 697.5,473.9 698.1,474.9 698.7,471.3 699.3,468.0 699.9,467.2 700.5,462.1 701.1,469.7 701.7,469.9 702.3,470.5 702.9,455.1 703.5,468.0 704.1,462.0 704.7,452.8 705.3,459.6 705.9,461.8 706.5,458.4 707.1,457.5 707.7,456.7 708.3,454.3 708.9,447.1 709.5,433.9 710.1,438.8 710.7,442.4 711.3,435.9 711.9,439.1 712.5,436.7 713.1,430.2 713.7,434.6 714.3,418.9 714.9,420.1 715.5,407.7 716.1,398.9 716.7,395.5 717.3,385.9 717.9,386.1 718.5,379.9 719.1,385.6 719.7,387.2 720.3,394.0 720.9,398.0 721.5,398.8 722.1,409.9 722.7,405.9 723.3,410.9 723.9,423.5 724.5,427.5 725.1,428.9 725.7,429.3 726.3,441.6 726.9,424.7 727.5,428.8 728.1,428.9 728.7,440.4 729.3,437.9 729.9,443.0 730.5,442.5 731.1,436.1 731.7,433.0 732.3,432.3 732.9,450.1 733.5,443.4 734.1,441.5 734.7,436.5 735.3,437.4 735.9,436.7 736.5,436.9 737.1,425.5 737.7,438.5 738.3,436.8 738.9,440.5 739.5,440.1 740.1,443.6 740.7,438.8 741.3,443.3 741.9,424.7 742.5,432.7 743.1,448.2 743.7,431.9 744.3,437.0 744.9,442.3 745.5,433.5 746.1,442.2 746.7,430.3 747.3,427.6 747.9,430.7 748.5,428.9 749.1,437.8 749.7,436.2 750.3,439.8 750.9,432.7 751.5,453.0 752.1,439.5 752.7,440.9 753.3,444.9 753.9,442.3 754.5,441.4 755.1,446.6 755.7,452.4 756.3,452.3 756.9,455.2 757.5,448.4 758.1,448.7 758.7,465.6 759.3,454.8 759.9,460.3 760.5,463.4 761.1,469.1 761.7,456.0 762.3,463.0 762.9,465.6 763.5,468.5 764.1,459.0 764.7,473.7 765.3,459.9 765.9,478.6 766.5,480.7 767.1,481.2 767.7,471.0 768.3,482.1 768.9,471.0 769.5,467.5 770.1,467.2 770.7,466.1 771.3,469.8 771.9,471.5 772.5,453.4 773.1,460.2 773.7,466.5 774.3,461.3 774.9,461.8 775.5,449.5 776.1,461.8 776.7,446.8 777.3,455.3 777.9,460.6 778.5,462.4 779.1,453.8 779.7,454.8 780.3,445.6 780.9,445.4 781.5,453.6 782.1,446.4 782.7,444.9 783.3,437.2 783.9,445.2 784.5,447.4 785.1,439.0 785.7,440.0 786.3,451.1 786.9,442.9 787.5,439.9 788.1,434.9 788.7,437.3 789.3,439.0 789.9,447.6 790.5,436.4 791.1,449.2 791.7,433.9 792.3,436.7 792.9,443.0 793.5,436.7 794.1,433.2 794.7,436.8 795.3,439.7 795.9,427.7 796.5,435.7 797.1,436.4 797.7,434.8 798.3,441.2 798.9,434.1 799.5,435.5 800.1,437.9 800.7,441.9 801.3,437.0 801.9,446.8 802.5,433.8 803.1,446.2 803.7,434.7 804.3,438.8 804.9,442.0 805.5,451.5 806.1,445.4 806.7,438.5 807.3,448.2 807.9,440.1 808.5,437.2 809.1,444.3 809.7,442.7 810.3,447.7 810.9,439.8 811.5,445.3 812.1,447.1 812.7,445.6 813.3,444.3 813.9,441.2 814.5,450.6 815.1,447.0 815.7,449.8 816.3,446.1 816.9,449.1 817.5,444.4 818.1,451.6 818.7,456.5 819.3,454.0 819.9,459.3 820.5,457.5 821.1,464.6 821.7,457.4 822.3,450.9 822.9,463.8 823.5,462.1 824.1,459.2 824.7,469.7 825.3,469.0 825.9,471.5 826.5,468.6 827.1,472.9 827.7,474.4 828.3,483.9 828.9,471.4 829.5,476.2 830.1,479.3 830.7,468.8 831.3,470.4 831.9,492.0 832.5,471.3 833.1,485.1 833.7,478.2 834.3,479.5 834.9,473.7 835.5,480.5 836.1,490.6 836.7,479.5 837.3,491.3 837.9,490.7 838.5,500.9 839.1,488.1 839.7,498.5 840.3,497.3 840.9,491.6 841.5,484.8 842.1,503.0 842.7,487.9 843.3,493.5 843.9,501.6 844.5,503.5 845.1,493.3 845.7,498.3 846.3,497.5 846.9,506.0 847.5,513.8 848.1,490.4 848.7,506.0 849.3,485.7 849.9,501.9 850.5,496.1 851.1,513.4 851.7,503.6 852.3,498.8 852.9,500.3 853.5,499.9 854.1,504.2 854.7,502.4 855.3,506.9 855.9,511.9 856.5,507.3 857.1,496.8 857.7,494.7 858.3,499.5 858.9,509.5 859.5,501.9 860.1,500.1 860.7,504.6 861.3,496.1 861.9,497.6 862.5,506.7 863.1,502.3 863.7,501.5 864.3,505.7 864.9,500.8 865.5,500.2 866.1,501.5 866.7,507.2 867.3,504.0 867.9,496.8 868.5,501.3 869.1,506.1 869.7,512.3 870.3,495.2 870.9,502.8 871.5,499.0 872.1,504.5 872.7,502.1 873.3,507.4 873.9,501.9 874.5,496.0 875.1,496.0 875.7,501.2 876.3,501.2 876.9,512.2 877.5,508.2 878.1,492.5 878.7,500.9 879.3,491.7 879.9,489.9 880.5,503.1 881.1,502.0 881.7,493.3 882.3,508.0 882.9,493.6 883.5,492.6 884.1,502.5 884.7,500.1 885.3,497.8 885.9,498.2 886.5,499.6 887.1,497.4 887.7,497.0 888.3,487.3 888.9,490.1 889.5,500.5 890.1,493.0 890.7,499.5 891.3,503.0 891.9,493.9 892.5,496.9 893.1,506.1 893.7,497.7 894.3,503.0 894.9,500.3 895.5,495.0 896.1,489.1 896.7,484.1 897.3,481.6 897.9,489.5 898.5,488.7 899.1,484.5 899.7,489.8 900.3,481.7 900.9,491.1 901.5,485.3 902.1,485.0 902.7,485.4 903.3,485.0 903.9,499.5 904.5,477.1 905.1,487.2 905.7,493.4 906.3,490.8 906.9,485.4 907.5,496.9 908.1,481.7 908.7,480.7 909.3,491.2 909.9,480.4 910.5,475.5 911.1,493.7 911.7,493.3 912.3,493.4 912.9,487.0 913.5,491.0 914.1,484.9 914.7,500.1 915.3,495.2 915.9,495.2 916.5,480.7 917.1,496.2 917.7,500.3 918.3,499.1 918.9,497.1 919.5,493.2 920.1,491.8 920.7,497.5 921.3,496.8 921.9,496.4 922.5,493.9 923.1,505.2 923.7,489.9 924.3,496.5 924.9,493.6 925.5,502.6 926.1,504.9 926.7,503.8 927.3,501.0 927.9,489.0 928.5,508.0 929.1,499.2 929.7,495.5 930.3,495.9 930.9,493.6 931.5,497.5 932.1,496.5 932.7,492.4 933.3,479.9 933.9,493.4 934.5,495.8 935.1,495.7 935.7,491.4 936.3,494.0 936.9,496.4 937.5,487.2 938.1,496.9 938.7,477.1 939.3,479.9 939.9,480.8 940.5,471.2 941.1,478.1 941.7,489.4 942.3,488.4 942.9,481.2 943.5,489.3 944.1,480.4 944.7,475.4 945.3,478.6 945.9,475.5 946.5,479.4 947.1,466.2 947.7,479.1 948.3,470.2 948.9,476.7 949.5,462.9 950.1,468.5 950.7,470.8 951.3,475.1 951.9,463.3 952.5,479.2 953.1,472.7 953.7,467.2 954.3,476.9 954.9,470.8 955.5,476.7 956.1,483.2 956.7,474.8 957.3,467.8 957.9,468.4 958.5,474.0 959.1,472.5 959.7,466.4 960.3,467.3 960.9,474.7 961.5,483.9 962.1,456.5 962.7,474.8 963.3,469.6 963.9,474.9 964.5,475.3 965.1,470.7 965.7,464.6 966.3,462.4 966.9,459.5 967.5,476.4 968.1,468.3 968.7,466.3 969.3,467.5 969.9,461.3 970.5,469.9 971.1,474.9 971.7,473.2 972.3,457.7 972.9,473.3 973.5,461.1 974.1,454.5 974.7,458.3 975.3,460.0 975.9,465.8 976.5,461.0 977.1,459.5 977.7,467.6 978.3,481.0 978.9,468.1 979.5,476.1 980.1,475.7 980.7,491.5 981.3,468.1 981.9,486.2 982.5,474.6 983.1,479.7 983.7,483.8 984.3,503.3 984.9,483.0 985.5,478.4 986.1,497.5 986.7,487.2 987.3,492.1 987.9,494.7 988.5,496.8 989.1,496.7 989.7,500.4 990.3,502.1 990.9,505.7 991.5,499.4 992.1,498.3 992.7,497.2 993.3,507.0 993.9,504.1 994.5,508.0 995.1,508.4 995.7,515.3 996.3,507.6 996.9,511.0 997.5,500.7" stroke="#808080" stroke-opacity="0.7" stroke-width="5.4"/>
</g>
<g font-family="Liberation Sans" font-size="34" fill="#808080" stroke="#808080" stroke-width="0.6" stroke-linejoin="round" text-anchor="middle"><text x="268.6" y="112.8">*</text><text x="331.8" y="51.8">*</text><text x="377.8" y="254.0">*</text><text x="494.6" y="197.6">*</text><text x="526.8" y="363.3">*</text><text x="581.4" y="349.6">*</text><text x="596.9" y="346.1">*</text><text x="613.4" y="368.5">*</text><text x="647.9" y="441.6">*</text><text x="711.4" y="380.2">*</text><text x="744.1" y="432.0">*</text><text x="787.5" y="428.2">*</text><text x="810.6" y="434.9">*</text><text x="829.7" y="453.2">*</text><text x="895.4" y="482.1">*</text><text x="945.8" y="474.3">*</text><text x="966.7" y="462.8">*</text></g>
<g font-size="23" fill="#ff0000" stroke="#ff0000" stroke-width="0.5" text-anchor="middle"><text x="381.5" y="40.5">#</text><text x="437.0" y="329.3">#</text><text x="616.5" y="342.8">#</text><text x="720.5" y="340.2">#</text><text x="753.3" y="407.8">#</text><text x="870.8" y="487.5">#</text><text x="952.5" y="438.4">#</text><text x="976.5" y="438.8">#</text></g>
<text transform="translate(248,474) scale(1,0.88)" font-family="DejaVu Sans" font-size="28" text-anchor="middle" fill="#000">&#9827;</text>
<rect x="138.8" y="1.35" width="859.8" height="531.4" fill="none" stroke="#000" stroke-width="2.8"/>
<path d="M178.8,532.8V525.8M178.8,1.35V8.3M217.9,532.8V519.3M217.9,1.35V14.8M257.0,532.8V525.8M257.0,1.35V8.3M296.1,532.8V525.8M296.1,1.35V8.3M335.2,532.8V525.8M335.2,1.35V8.3M374.3,532.8V525.8M374.3,1.35V8.3M413.4,532.8V519.3M413.4,1.35V14.8M452.5,532.8V525.8M452.5,1.35V8.3M491.6,532.8V525.8M491.6,1.35V8.3M530.7,532.8V525.8M530.7,1.35V8.3M569.8,532.8V525.8M569.8,1.35V8.3M608.9,532.8V519.3M608.9,1.35V14.8M648.0,532.8V525.8M648.0,1.35V8.3M687.1,532.8V525.8M687.1,1.35V8.3M726.2,532.8V525.8M726.2,1.35V8.3M765.3,532.8V525.8M765.3,1.35V8.3M804.4,532.8V519.3M804.4,1.35V14.8M843.5,532.8V525.8M843.5,1.35V8.3M882.6,532.8V525.8M882.6,1.35V8.3M921.7,532.8V525.8M921.7,1.35V8.3M960.8,532.8V525.8M960.8,1.35V8.3M138.8,508.8H145.8M998.6,508.8H991.6M138.8,484.7H145.8M998.6,484.7H991.6M138.8,460.5H145.8M998.6,460.5H991.6M138.8,436.3H152.8M998.6,436.3H984.6M138.8,412.1H145.8M998.6,412.1H991.6M138.8,388.0H145.8M998.6,388.0H991.6M138.8,363.8H145.8M998.6,363.8H991.6M138.8,339.6H152.8M998.6,339.6H984.6M138.8,315.5H145.8M998.6,315.5H991.6M138.8,291.3H145.8M998.6,291.3H991.6M138.8,267.1H145.8M998.6,267.1H991.6M138.8,243.0H152.8M998.6,243.0H984.6M138.8,218.8H145.8M998.6,218.8H991.6M138.8,194.6H145.8M998.6,194.6H991.6M138.8,170.5H145.8M998.6,170.5H991.6M138.8,146.3H152.8M998.6,146.3H984.6M138.8,122.1H145.8M998.6,122.1H991.6M138.8,97.9H145.8M998.6,97.9H991.6M138.8,73.8H145.8M998.6,73.8H991.6M138.8,49.6H152.8M998.6,49.6H984.6M138.8,25.4H145.8M998.6,25.4H991.6" stroke="#000" stroke-width="2.8" fill="none"/>
<g font-size="37" fill="#000"><text x="123" y="544.6" text-anchor="end">0</text><text x="123" y="447.9" text-anchor="end">20</text><text x="123" y="351.2" text-anchor="end">40</text><text x="123" y="254.6" text-anchor="end">60</text><text x="123" y="157.9" text-anchor="end">80</text><text x="123" y="61.2" text-anchor="end">100</text><text x="217.9" y="577" text-anchor="middle">10</text><text x="413.4" y="577" text-anchor="middle">20</text><text x="608.9" y="577" text-anchor="middle">30</text><text x="804.4" y="577" text-anchor="middle">40</text></g>
<text transform="translate(28.8,456.3) rotate(-90)" font-size="40.5" fill="#000">relative intensity [%]</text>
<g fill="#000"><text x="474" y="627" font-size="41.5">2</text>
<text transform="translate(508.4,627) scale(1.2,1)" font-size="41" font-style="italic">&#952;</text>
<text x="526.5" y="638" font-size="28">Mo-k</text>
<text x="587" y="638" font-size="21">&#945;1</text>
<text x="619.4" y="627.5" font-size="41">[&#176;]</text></g>
<!-- legend -->
<line x1="685.5" y1="41.5" x2="766.5" y2="41.5" stroke="#808080" stroke-opacity="0.7" stroke-width="5.5" stroke-linecap="round"/>
<line x1="685" y1="87" x2="767.2" y2="87" stroke="#ff0000" stroke-width="6"/>
<g font-size="36">
<text x="776.5" y="53" fill="#808080">pristine</text>
<text x="776.5" y="99.2" fill="#ff0000">reduced in H<tspan font-size="25" dy="9">2</tspan></text>
<text x="725" y="153.5" font-family="Liberation Sans" font-size="34" stroke="#808080" stroke-width="0.6" stroke-linejoin="round" fill="#808080" text-anchor="middle">*</text>
<text x="772" y="152" fill="#808080">IrO<tspan font-size="25" dy="9">2</tspan><tspan dy="-9"> (calc.)</tspan></text>
<text x="723.3" y="195.8" font-size="23" stroke="#ff0000" stroke-width="0.5" fill="#ff0000" text-anchor="middle">#</text>
<text x="767" y="210.8" fill="#ff0000">Ir (calc.)</text>
</g>
</svg>
</body></html>
